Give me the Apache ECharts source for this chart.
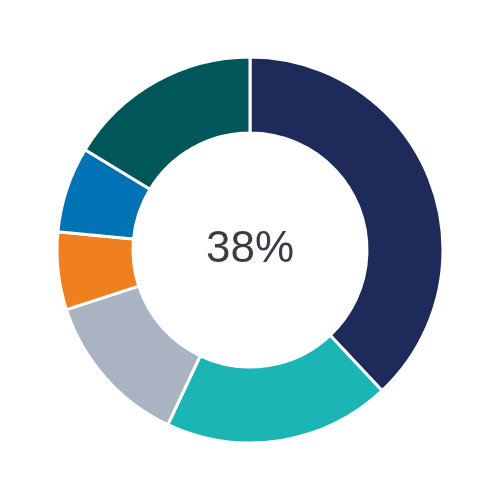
<!DOCTYPE html>
<html><head><meta charset="utf-8">
<script src="https://cdn.jsdelivr.net/npm/echarts@6/dist/echarts.min.js"></script>
<style>html,body{margin:0;padding:0;background:#fff}#c{width:500px;height:500px}</style>
</head><body><div id="c"></div>
<script>
const names = ["A","B","C","D","E","F"];
const values = [38, 19, 13, 6.5, 7.2, 16.3];
const colors = ["#1e2a5a","#1bb5b6","#a9b3c1","#f07f1f","#0073b4","#005659"];
const centerLabel = "38%";
const chart = echarts.init(document.getElementById('c'));
chart.setOption({
  animation:false,
  title:{text:centerLabel,left:'center',top:'middle',textStyle:{fontFamily:'Liberation Sans, Arial',fontSize:44,fontWeight:'normal',color:'#3a3d44'}},
  series:[{type:'pie',radius:['46.8%','77.2%'],center:['50%','50%'],startAngle:90,clockwise:true,
    label:{show:false},labelLine:{show:false},
    itemStyle:{borderColor:'#fff',borderWidth:3},
    data:names.map((n,i)=>({name:n,value:values[i],itemStyle:{color:colors[i]}}))}]
});
</script></body></html>
